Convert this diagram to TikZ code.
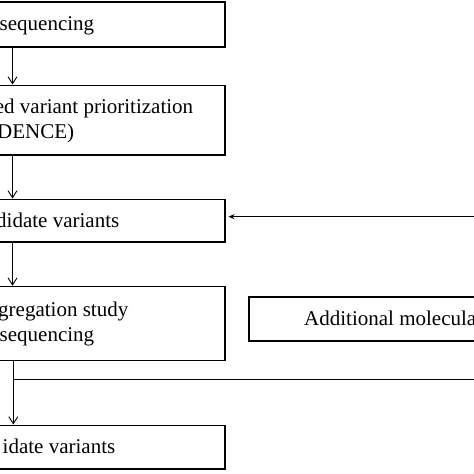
\documentclass[tikz,border=0pt]{standalone}
\usepackage{fontspec}
\setmainfont{Liberation Serif}
\usetikzlibrary{arrows.meta}
\usetikzlibrary{positioning}

\begin{document}
\begin{tikzpicture}[x=1pt,y=-1pt,
      stepbox/.style={draw,line width=1.6pt,inner sep=0pt},
      steptext/.style={anchor=base west,inner sep=0pt,font=\fontsize{21}{25}\selectfont},
      flow/.style={line width=0.9pt,-{Straight Barb[length=7pt,width=9pt]}},
      backflow/.style={line width=0.9pt,-{Stealth[length=6pt,width=5pt]}},
    ]
        \useasboundingbox (0,0) rectangle (474,474);
        \clip (0,0) rectangle (474,474);
        % boxes of the flow, cut off at the left
        \node[stepbox,minimum width=426pt,minimum height=45pt,anchor=north east] (seq) at (226,1.2) {};
        \node[stepbox,minimum width=426pt,minimum height=69.5pt,anchor=north east] (prio) at (226,84.5) {};
        \node[stepbox,minimum width=426pt,minimum height=42.5pt,anchor=north east] (cand) at (226,198.5) {};
        \node[stepbox,minimum width=426pt,minimum height=74pt,anchor=north east] (segr) at (226,285.7) {};
        \node[stepbox,minimum width=452pt,minimum height=44pt,anchor=north west] (molec) at (248,296) {};
        \node[stepbox,minimum width=426pt,minimum height=43.8pt,anchor=north east] (final) at (226,424.5) {};
        % texts
        \node[steptext] (seqtext) at (-0.5,30.7) {sequencing};
        \node[steptext] (priotexta) at (-5.3,113) {ed variant prioritization};
        \node[steptext] (priotextb) at (-3,138) {DENCE)};
        \node[steptext] (candtext) at (-4,227.7) {didate variants};
        \node[steptext] (segrtexta) at (-2,316) {gregation study};
        \node[steptext] (segrtextb) at (-0.5,341) {sequencing};
        \node[steptext] (molectext) at (304,325.5) {Additional molecula};
        \node[steptext] (finaltext) at (2.5,453.6) {idate variants};
        % connectors
        \coordinate (spine) at (12.5,0);
        \coordinate (spinelow) at (13.3,0);
        \coordinate (fork) at (13.3,379);
        \coordinate (farright) at (600,379);
        \coordinate (back) at (600,216.7);
        \draw[flow] (seq.south -| spine) -- (prio.north -| spine);
        \draw[flow] (prio.south -| spine) -- (cand.north -| spine);
        \draw[flow] (cand.south -| spine) -- (segr.north -| spine);
        \draw[flow] (segr.south -| spinelow) -- (final.north -| spinelow);
        \draw[line width=0.9pt] (fork) -- (farright);
        \draw[backflow] (back) -- ([xshift=2.5pt]cand.east |- back);
    \end{tikzpicture}
\end{document}
